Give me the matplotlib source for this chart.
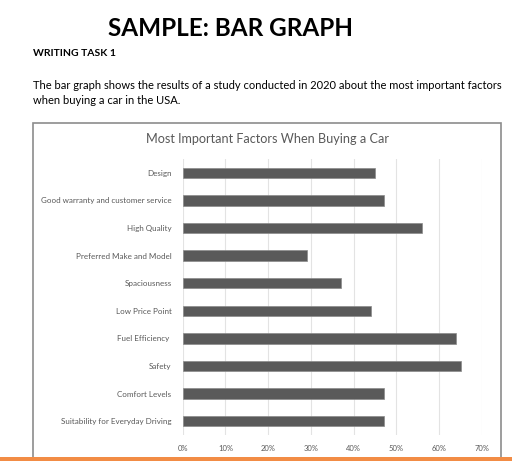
import matplotlib
matplotlib.use('Agg')
import matplotlib.pyplot as plt
from matplotlib.patches import Rectangle
import numpy as np

plt.rcParams['font.family'] = ['Lato', 'DejaVu Sans']

factors = [
    "Design",
    "Good warranty and customer service",
    "High Quality",
    "Preferred Make and Model",
    "Spaciousness",
    "Low Price Point",
    "Fuel Efficiency ",
    "Safety",
    "Comfort Levels",
    "Suitability for Everyday Driving",
]
percent = [45, 47, 56, 29, 37, 44, 64, 65, 47, 47]
xticks = [0, 10, 20, 30, 40, 50, 60, 70]

fig = plt.figure(figsize=(5.12, 4.61), dpi=100)
fig.patch.set_facecolor('white')

# page header text
fig.text(230 / 512, 1 - 29 / 461, "SAMPLE: BAR GRAPH", ha='center', va='center',
         fontsize=17.5, fontweight='bold', color='black')
fig.text(33 / 512, 1 - 54 / 461, "WRITING TASK 1", ha='left', va='center',
         fontsize=7.5, fontweight='bold', color='black')
fig.text(33 / 512, 1 - 85 / 461,
         "The bar graph shows the results of a study conducted in 2020 about the most important factors",
         ha='left', va='center', fontsize=8.0, color='black')
fig.text(33 / 512, 1 - 100 / 461, "when buying a car in the USA.",
         ha='left', va='center', fontsize=8.0, color='black')

# chart frame
fig.patches.append(Rectangle((33 / 512, 0), (501 - 33) / 512, 1 - 123 / 461,
                             transform=fig.transFigure, fill=False,
                             edgecolor='#8c8c8c', linewidth=1.2))
# orange band at bottom
fig.patches.append(Rectangle((0, 0), 1, 4.5 / 461, transform=fig.transFigure,
                             facecolor='#f28c45', edgecolor='none', zorder=5))

fig.text(267 / 512, 1 - 139 / 461, "Most Important Factors When Buying a Car",
         ha='center', va='center', fontsize=9.1, color='#595959')

ax = fig.add_axes([182.7 / 512, 1 - 435 / 461, (482 - 182.7) / 512, (435 - 159) / 461])
y = np.arange(len(factors))
ax.barh(y, percent, height=0.38, color='#5a5a5a', edgecolor='#8a8a8a', linewidth=0.5, zorder=3)
ax.set_ylim(len(factors) - 0.5, -0.5)
ax.set_xlim(0, 70)
ax.set_yticks(y)
ax.set_yticklabels(factors, fontsize=5.8, color='#595959')
ax.set_xticks(xticks)
ax.set_xticklabels([f"{t}%" for t in xticks], fontsize=5.5, color='#595959')
ax.tick_params(axis='both', length=0)
ax.tick_params(axis='y', pad=8)
ax.tick_params(axis='x', pad=7)
ax.grid(axis='x', color='#e3e3e3', linewidth=0.8, zorder=0)
for s in ax.spines.values():
    s.set_visible(False)

fig.savefig('out.png', dpi=100)
